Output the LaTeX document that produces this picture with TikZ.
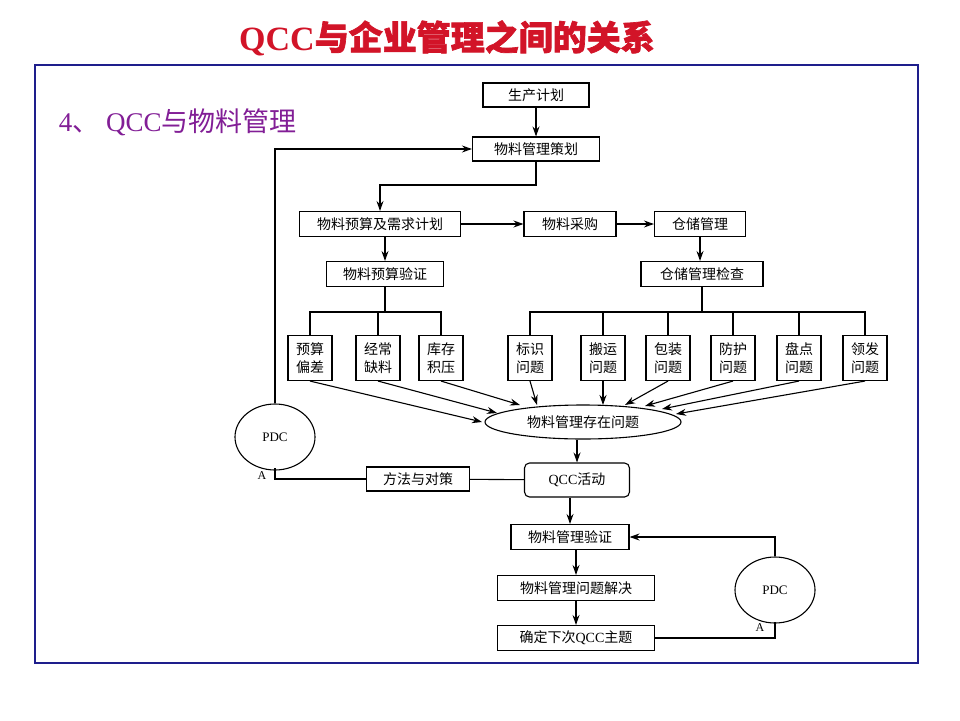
\documentclass[tikz,border=0pt]{standalone}
\usepackage{fontspec}
\setmainfont{Liberation Serif}
\newfontfamily\cjk{Noto Sans CJK SC}
\newfontfamily\cjkb[FakeBold=2]{Noto Sans CJK SC}
\usetikzlibrary{shapes.geometric,arrows.meta}
\definecolor{navy}{RGB}{30,30,140}
\definecolor{ttl}{RGB}{210,20,40}
\definecolor{purp}{RGB}{130,30,150}
\begin{document}
\begin{tikzpicture}[x=1pt,y=-1pt,line width=1.1pt,
 box/.style={draw,minimum height=25pt,inner sep=2pt,font=\cjk\fontsize{14}{15}\selectfont},
 sbox/.style={draw,minimum width=44pt,minimum height=45pt,align=center,inner sep=1pt,font=\cjk\fontsize{14}{18}\selectfont},
 pdc/.style={draw,ellipse,minimum width=80pt,minimum height=66pt,font=\fontsize{13}{14}\selectfont},
 arr/.style={-{Stealth[length=10pt,width=7pt]}},
 ln/.style={}]
\useasboundingbox (0,0) rectangle (960,720);
\fill[white] (0,0) rectangle (960,720);
\node (title) at (447,38) {\color{ttl}\fontsize{34}{36}\selectfont\bfseries QCC{\cjkb 与企业管理之间的关系}};
\draw[navy,line width=2pt] (35,65) rectangle (918,663);
\node[anchor=west] (sub) at (55,122) {\color{purp}\fontsize{27}{29}\selectfont 4{\cjk 、} QCC{\cjk 与物料管理}};
% boxes
\node[box,minimum width=106pt,minimum height=24pt] (scjh) at (536,95) {生产计划};
\node[box,minimum width=127pt,minimum height=24pt] (chcc) at (536,149) {物料管理策划};
\node[box,minimum width=161pt] (ysjh) at (380,224) {物料预算及需求计划};
\node[box,minimum width=92pt] (cg) at (570,224) {物料采购};
\node[box,minimum width=91pt] (ccgl) at (700,224) {仓储管理};
\node[box,minimum width=117pt] (ysyz) at (385,274) {物料预算验证};
\node[box,minimum width=122pt] (ccjc) at (702,274) {仓储管理检查};
\node[sbox] (b1) at (310,358) {预算\\偏差};
\node[sbox] (b2) at (378,358) {经常\\缺料};
\node[sbox] (b3) at (441,358) {库存\\积压};
\node[sbox] (b4) at (530,358) {标识\\问题};
\node[sbox] (b5) at (603,358) {搬运\\问题};
\node[sbox] (b6) at (668,358) {包装\\问题};
\node[sbox] (b7) at (733,358) {防护\\问题};
\node[sbox] (b8) at (799,358) {盘点\\问题};
\node[sbox] (b9) at (865,358) {领发\\问题};
\node[draw,ellipse,minimum width=196pt,minimum height=34pt,font=\cjk\fontsize{14}{15}\selectfont] (wt) at (583,422) {物料管理存在问题};
\node[box,rounded corners=5pt,minimum width=105pt,minimum height=34pt] (qcc) at (577,480) {{\rmfamily QCC}活动};
\node[box,minimum width=103pt,minimum height=24pt] (ff) at (418,479) {方法与对策};
\node[pdc] (p1) at (275,437) {PDC};
\node (a1) at (262,476) {\fontsize{12}{13}\selectfont A};
\node[box,minimum width=118pt] (yz) at (570,537) {物料管理验证};
\node[box,minimum width=157pt] (jj) at (576,588) {物料管理问题解决};
\node[box,minimum width=157pt] (zt) at (576,638) {确定下次{\rmfamily QCC}主题};
\node[pdc] (p2) at (775,590) {PDC};
\node (a2) at (760,628) {\fontsize{12}{13}\selectfont A};
% connectors
\draw[arr] (scjh) -- (chcc);
\draw[arr] (chcc.south) |- (380,185) -- (ysjh.north);
\draw[arr] (ysjh) -- (cg);
\draw[arr] (cg) -- (ccgl);
\draw[arr] (ysjh.south -| ysyz) -- (ysyz);
\draw[arr] (ccgl) -- (ccjc.north -| ccgl);
\draw[ln] (ysyz.south) -- (385,312);
\draw[ln] (b1.north) |- (b3.north |- 0,312) -- (b3.north);
\draw[ln] (b2.north) -- (b2.north |- 0,312);
\draw[ln] (ccjc.south) -- (702,312);
\draw[ln] (b4.north) |- (b9.north |- 0,312) -- (b9.north);
\foreach \b in {b5,b6,b7,b8} \draw[ln] (\b.north) -- (\b.north |- 0,312);
\coordinate (t1) at (482,422);
\coordinate (t2) at (497,413);
\coordinate (t3) at (520,405);
\coordinate (t4) at (537,405);
\coordinate (t5) at (603,405);
\coordinate (t6) at (625,405);
\coordinate (t7) at (645,406);
\coordinate (t8) at (662,409);
\coordinate (t9) at (676,414);
\draw[arr] (b1.south) -- (t1);
\draw[arr] (b2.south) -- (t2);
\draw[arr] (b3.south) -- (t3);
\draw[arr] (b4.south) -- (t4);
\draw[arr] (b5.south) -- (t5);
\draw[arr] (b6.south) -- (t6);
\draw[arr] (b7.south) -- (t7);
\draw[arr] (b8.south) -- (t8);
\draw[arr] (b9.south) -- (t9);
\draw[arr] (wt.south -| qcc) -- (qcc);
\draw[ln] (qcc) -- (ff);
\draw[ln] (ff.west) -| (275,468);
\draw[arr] (p1.north) |- (chcc.west);
\draw[arr] (qcc.south -| yz) -- (yz);
\draw[arr] (yz.south -| jj) -- (jj);
\draw[arr] (jj) -- (zt);
\draw[arr] (p2.north) |- (yz.east);
\draw[ln] (zt.east) -| (775,622);
\end{tikzpicture}
\end{document}
